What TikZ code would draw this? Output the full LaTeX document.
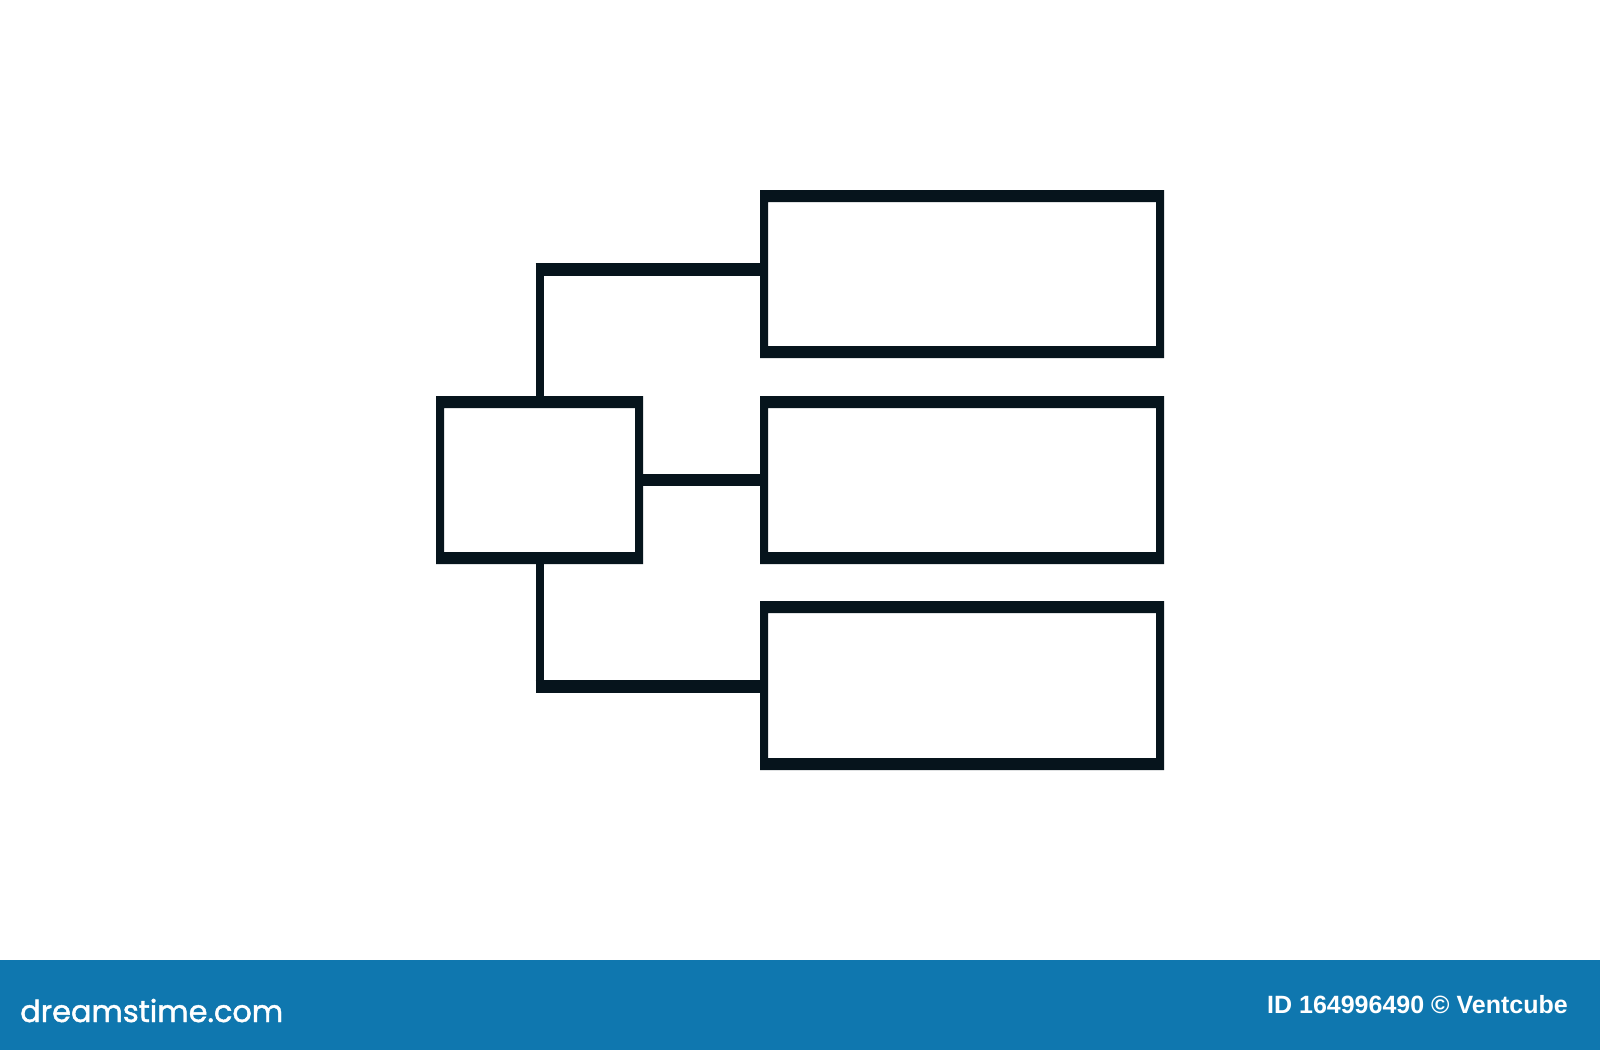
\documentclass[tikz,border=0pt]{standalone}
\usepackage{fontspec}
\setmainfont{Liberation Sans}
\newfontfamily\logofont[FakeBold=1.5]{Poppins}
\newfontfamily\idfont{Liberation Sans}
\definecolor{ink}{HTML}{06141C}
\definecolor{barblue}{HTML}{0F77AF}
\tikzset{
  slot/.style={rectangle, draw=none, inner sep=0pt, outer sep=0pt, minimum width=#1},
  hline/.style={ink, line width=12.5pt},
  vline/.style={ink, line width=8pt},
}
\newcommand{\frameit}[1]{%
  \fill[ink, even odd rule] (#1.north west) rectangle (#1.south east)
    ([xshift=8pt,yshift=-12pt]#1.north west) rectangle ([xshift=-8pt,yshift=12pt]#1.south east);}
\begin{document}
\begin{tikzpicture}[x=1pt,y=-1pt]
\useasboundingbox (0,0) rectangle (1600,1050);
\fill[white] (0,0) rectangle (1600,1050);
% boxes
\node[slot=404pt, minimum height=168pt] (tr) at (962,274) {};
\node[slot=404pt, minimum height=168pt] (mr) at (962,480) {};
\node[slot=404pt, minimum height=169pt] (br) at (962,685.5) {};
\node[slot=207pt, minimum height=168pt] (lb) at (539.5,480) {};
\frameit{tr}
\frameit{mr}
\frameit{br}
\frameit{lb}
% connector levels
\coordinate (c1) at (539.5,269.5);
\coordinate (c3) at (539.5,686.5);
% top connector
\draw[vline] (lb.north) -- ([yshift=6.25pt]lb.north |- c1);
\draw[hline] ([xshift=-4pt]lb.north |- c1) -- (c1 -| tr.west);
% middle connector
\draw[hline] (lb.east) -- (mr.west |- lb.east);
% bottom connector
\draw[vline] (lb.south) -- ([yshift=-6.25pt]lb.south |- c3);
\draw[hline] ([xshift=-4pt]lb.south |- c3) -- (c3 -| br.west);
% bottom bar
\node[fill=barblue, inner sep=0pt, outer sep=0pt, minimum width=1600pt, minimum height=90pt, anchor=north west] (bar) at (0,960) {};
\node[anchor=base west, inner sep=0pt, text=white] (logo) at (20,1022)
  {\resizebox{263pt}{!}{\logofont dreamstime.com}};
\node[anchor=base west, inner sep=0pt, text=white] (id) at (1267,1013)
  {\idfont\bfseries\fontsize{25}{25}\selectfont ID 164996490 © Ventcube};
\end{tikzpicture}
\end{document}
